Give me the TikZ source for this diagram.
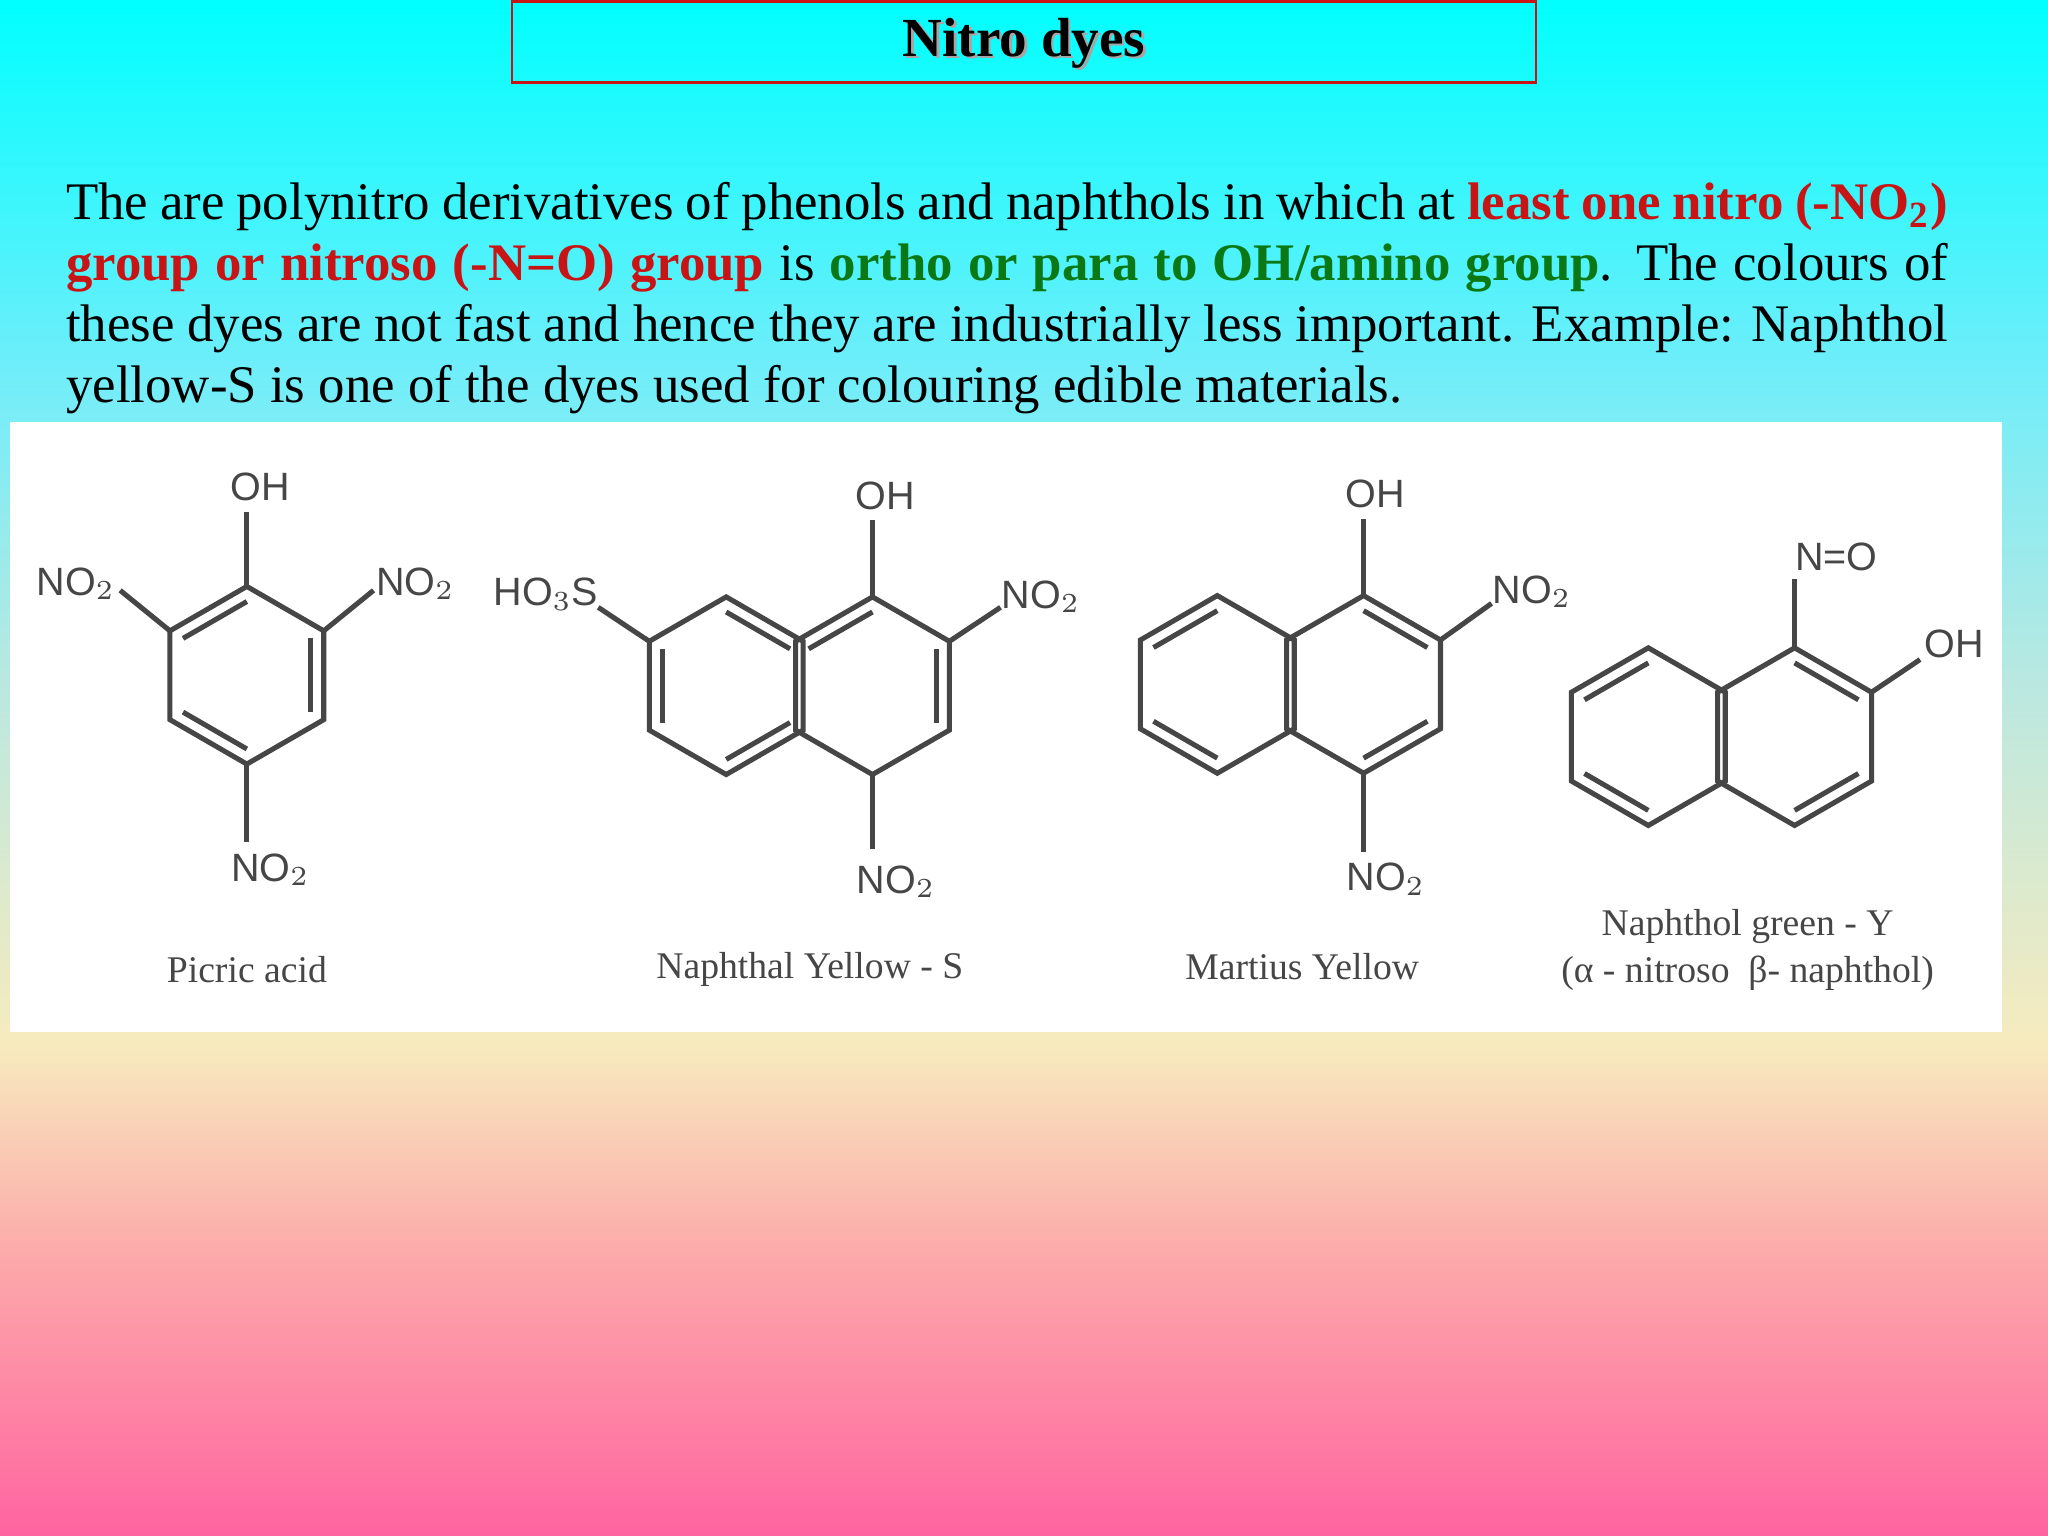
\documentclass[tikz,border=0pt]{standalone}
\usepackage{fontspec}
\setmainfont{Liberation Serif}
\newfontfamily\chemf{Liberation Sans}
\newfontfamily\capf{Liberation Serif}
\usetikzlibrary{calc}
\definecolor{c1}{RGB}{255,100,160}
\definecolor{c2}{RGB}{252,170,170}
\definecolor{c3}{RGB}{247,235,190}
\definecolor{c4}{RGB}{185,232,225}
\definecolor{c5}{RGB}{110,238,250}
\definecolor{c6}{RGB}{0,255,255}
\definecolor{tred}{RGB}{200,20,20}
\definecolor{tgreen}{RGB}{10,120,20}
\definecolor{bond}{RGB}{70,70,70}
\tikzset{
  bd/.style={draw=bond, line width=1.1pt},
  lab/.style={font=\chemf\fontsize{8.6}{10}\selectfont, text=bond, inner sep=0pt},
  captxt/.style={font=\capf\fontsize{8.2}{10}\selectfont, text=bond, inner sep=0pt, align=center}
}
\newcommand{\ring}[3]{% name, x, y
  \foreach \i/\a in {1/90,2/30,3/-30,4/-90,5/-150,6/150}{
    \coordinate (#1\i) at ($(#2,#3)+(\a:68 and -68)$);}
  \coordinate (#1c) at (#2,#3);
  \draw[bd] (#11)--(#12)--(#13)--(#14)--(#15)--(#16)--cycle;}
\newcommand{\dbl}[3]{\draw[bd] ($(#1)!0.17!(#3)$) -- ($(#2)!0.17!(#3)$);}
\begin{document}
\begin{tikzpicture}[x=0.01cm,y=-0.01cm]
\useasboundingbox (0,0) rectangle (1568,1176);
\shade[top color=c6, bottom color=c5] (0,0) rectangle (1568,280);
\shade[top color=c5, bottom color=c4] (0,279) rectangle (1568,520);
\shade[top color=c4, bottom color=c3] (0,519) rectangle (1568,800);
\shade[top color=c3, bottom color=c2] (0,799) rectangle (1568,960);
\shade[top color=c2, bottom color=c1] (0,959) rectangle (1568,1176);
\draw[tred, line width=0.6pt] (392,1) rectangle (1176,63);
\node[font=\bfseries\fontsize{12}{13}\selectfont, text=gray!70] at (786,35) {Nitro dyes};
\node[font=\bfseries\fontsize{12}{13}\selectfont] (title) at (784,33) {Nitro dyes};
\node[anchor=north west, inner sep=0pt, text width=14.4cm, align=justify, font=\fontsize{11.5}{13.3}\selectfont] (para) at (50,139) {The are polynitro derivatives of phenols and naphthols in which at {\color{tred}\bfseries least one nitro (-NO\textsubscript{2}) group or nitroso (-N=O) group} is {\color{tgreen}\bfseries ortho or para to OH/amino group}. The colours of these dyes are not fast and hence they are industrially less important. Example: Naphthol yellow-S is one of the dyes used for colouring edible materials.};
\fill[white] (8,323) rectangle (1533,790);
% Picric acid
\ring{P}{189}{517}
\dbl{P6}{P1}{Pc}\dbl{P2}{P3}{Pc}\dbl{P4}{P5}{Pc}
\draw[bd] (P1)--(189,392); \node[lab] at (199,373) {OH};
\draw[bd] (P6)--(92,452); \node[lab] at (58,447) {NO$_2$};
\draw[bd] (P2)--(286,452); \node[lab] at (318,447) {NO$_2$};
\draw[bd] (P4)--(189,645); \node[lab] at (207,666) {NO$_2$};
\node[captxt] at (189,742) {Picric acid};
% Naphthal yellow S
\ring{A}{556}{525}\ring{B}{668}{525}
\dbl{A1}{A2}{Ac}\dbl{A5}{A6}{Ac}\dbl{A3}{A4}{Ac}\dbl{B3}{B2}{Bc}\dbl{B1}{B6}{Bc}
\draw[bd] (B1)--(668,398); \node[lab] at (678,380) {OH};
\draw[bd] (B2)--(766,465); \node[lab] at (797,457) {NO$_2$};
\draw[bd] (B4)--(668,650); \node[lab] at (686,675) {NO$_2$};
\draw[bd] (A6)--(458,465); \node[lab] at (418,455) {HO$_3$S};
\node[captxt] at (620,742) {Naphthal Yellow - S};
% Martius yellow
\ring{C}{932}{524}\ring{D}{1044}{524}
\dbl{C1}{C6}{Cc}\dbl{C4}{C5}{Cc}\dbl{D1}{D2}{Dc}\dbl{D3}{D4}{Dc}
\draw[bd] (D1)--(1044,397); \node[lab] at (1053,378) {OH};
\draw[bd] (D2)--(1142,462); \node[lab] at (1173,453) {NO$_2$};
\draw[bd] (D4)--(1044,652); \node[lab] at (1061,673) {NO$_2$};
\node[captxt] at (997,740) {Martius Yellow};
% Naphthol green Y
\ring{E}{1262}{564}\ring{F}{1374}{564}
\dbl{E1}{E6}{Ec}\dbl{E4}{E5}{Ec}\dbl{F1}{F2}{Fc}\dbl{F3}{F4}{Fc}
\draw[bd] (F1)--(1374,443); \node[lab] at (1406,426) {N=O};
\draw[bd] (F2)--(1470,505); \node[lab] at (1496,493) {OH};
\node[captxt] at (1338,709) {Naphthol green - Y};
\node[captxt] at (1338,745) {(α - nitroso\ \ β- naphthol)};
\end{tikzpicture}
\end{document}
